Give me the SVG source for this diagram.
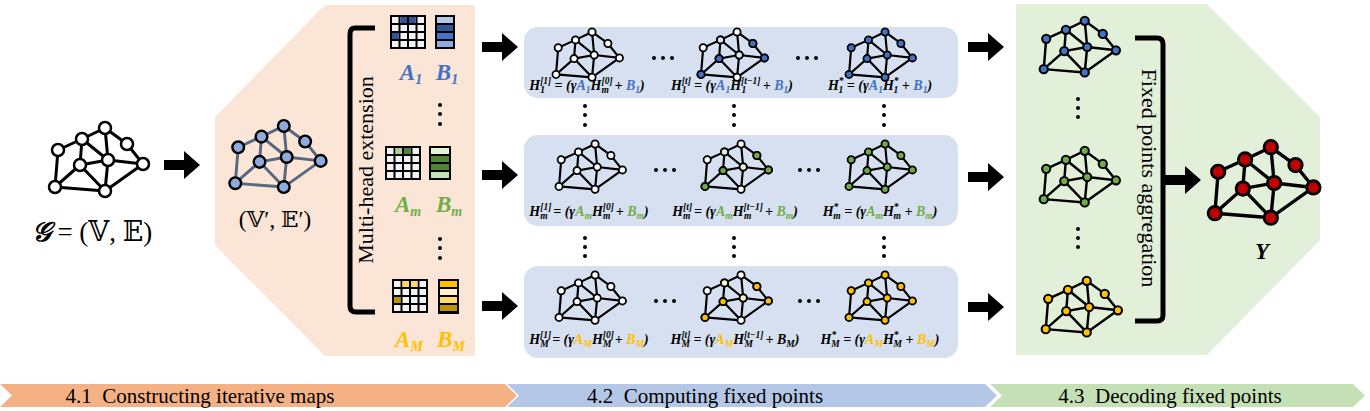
<svg xmlns="http://www.w3.org/2000/svg" xmlns:xlink="http://www.w3.org/1999/xlink" width="1370" height="411" viewBox="0 0 1370 411">
<style>
.lbl{font-family:"Liberation Serif","DejaVu Serif",serif;font-weight:bold;font-style:italic;font-size:23px}
.f{font-family:"Liberation Serif","DejaVu Serif",serif;font-weight:bold;font-style:italic;font-size:14px;fill:#000}
.s{font-size:9.5px}
.txt{font-family:"Liberation Serif","DejaVu Serif",serif;font-size:22px;fill:#000}
.ban{font-family:"Liberation Serif","DejaVu Serif",serif;font-size:21px;fill:#000;white-space:pre}
.dot{fill:#000}
.br{fill:none;stroke:#000;stroke-width:5;stroke-linejoin:round}
</style>
<defs>
<path id="ge" d="M-40,-10 L-16,-21 L7,-32 L29,-16 L45,4 L7,31 L-43,27 Z M-16,-21 L-18,5 L-43,27 M-18,5 L7,31 M-18,5 L10,0 L45,4 M7,-32 L10,0 L7,31 M-16,-21 L10,0" fill="none" stroke-width="3" stroke-linejoin="round"/>
<g id="gn" stroke="#000" stroke-width="2.5">
<circle cx="-40" cy="-10" r="6"/><circle cx="-16" cy="-21" r="6"/><circle cx="7" cy="-32" r="6"/><circle cx="29" cy="-16" r="6"/><circle cx="45" cy="4" r="6"/><circle cx="10" cy="0" r="6"/><circle cx="-18" cy="5" r="6"/><circle cx="-43" cy="27" r="6"/><circle cx="7" cy="31" r="6"/>
</g>
<g id="gns" stroke="#000" stroke-width="2.5">
<circle cx="-40" cy="-10" r="5"/><circle cx="-16" cy="-21" r="5"/><circle cx="7" cy="-32" r="5"/><circle cx="29" cy="-16" r="5"/><circle cx="45" cy="4" r="5"/><circle cx="10" cy="0" r="5"/><circle cx="-18" cy="5" r="5"/><circle cx="-43" cy="27" r="5"/><circle cx="7" cy="31" r="5"/>
</g>
<g id="gw"><use xlink:href="#ge" stroke="#000"/><use xlink:href="#gn" fill="#fff"/></g>
<g id="gws"><use xlink:href="#ge" stroke="#000"/><use xlink:href="#gns" fill="#fff"/></g>
<g id="gmix" stroke="#000" stroke-width="2.5"><circle cx="29" cy="-16" r="5"/><circle cx="45" cy="4" r="5"/><circle cx="-18" cy="5" r="5"/><circle cx="-43" cy="27" r="5"/></g>
<g id="gmixl" stroke="#000" stroke-width="2.5"><circle cx="-16" cy="-21" r="5"/><circle cx="10" cy="0" r="5"/></g>
<g id="arr"><path d="M0,-5 H20 V-14 L36,0 L20,14 V5 H0 Z" fill="#000"/></g>
<g id="grid"><rect x="0" y="0" width="36" height="34" fill="#000"/>
<g fill="#f2f2f2">
<rect x="2" y="2" width="6.5" height="6"/><rect x="10.5" y="2" width="6.5" height="6"/><rect x="19" y="2" width="6.5" height="6"/><rect x="27.5" y="2" width="6.5" height="6"/>
<rect x="2" y="10" width="6.5" height="6"/><rect x="10.5" y="10" width="6.5" height="6"/><rect x="19" y="10" width="6.5" height="6"/><rect x="27.5" y="10" width="6.5" height="6"/>
<rect x="2" y="18" width="6.5" height="6"/><rect x="10.5" y="18" width="6.5" height="6"/><rect x="19" y="18" width="6.5" height="6"/><rect x="27.5" y="18" width="6.5" height="6"/>
<rect x="2" y="26" width="6.5" height="6"/><rect x="10.5" y="26" width="6.5" height="6"/><rect x="19" y="26" width="6.5" height="6"/><rect x="27.5" y="26" width="6.5" height="6"/>
</g></g>
</defs>

<g id="bg">
<path d="M215,117 L325,5 H475 V356 H325 L215,245 Z" fill="#fbe5d6"/>
<path d="M1016,4 H1207 L1320,117 V240 L1207,355 H1016 Z" fill="#e2f0d9"/>
<rect x="524" y="27" width="434" height="71" rx="14" fill="#d6e0f0"/>
<rect x="524" y="135" width="434" height="91" rx="14" fill="#d6e0f0"/>
<rect x="524" y="266" width="434" height="92" rx="14" fill="#d6e0f0"/>
</g>

<g id="banner">
<path d="M0,384 H505 L517,395.5 L505,407 H0 L12,395.5 Z" fill="#f4b183"/>
<path d="M507,384 H985 L997,395.5 L985,407 H507 L519,395.5 Z" fill="#b4c7e7"/>
<path d="M990,384 H1353 L1365,395.5 L1353,407 H990 L1002,395.5 Z" fill="#c5e0b4"/>
<text class="ban" x="200" y="403" text-anchor="middle" xml:space="preserve">4.1  Constructing iterative maps</text>
<text class="ban" x="705" y="403" text-anchor="middle" xml:space="preserve">4.2  Computing fixed points</text>
<text class="ban" x="1170" y="403" text-anchor="middle" xml:space="preserve">4.3  Decoding fixed points</text>
</g>

<g id="input">
<use xlink:href="#gw" transform="translate(98,160)"/>
<text x="92" y="241" text-anchor="middle" font-family="Liberation Serif,DejaVu Serif,serif" font-size="27"><tspan font-weight="bold" font-style="italic">𝒢</tspan> = (𝕍, 𝔼)</text>
</g>

<g id="ext">
<g transform="translate(277,157) scale(0.97)"><use xlink:href="#ge" stroke="#56687f"/><use xlink:href="#gn" fill="#8faadc" stroke="#56687f"/></g>
<text x="275" y="227" text-anchor="middle" font-family="Liberation Serif,DejaVu Serif,serif" font-size="23">(𝕍′, 𝔼′)</text>
</g>

<g id="heads">
<path class="br" d="M375,28 H355 Q350,28 350,34 V306 Q350,312 356,312 H375"/>
<text class="txt" transform="translate(373,170) rotate(-90)" text-anchor="middle">Multi-head extension</text>
<use xlink:href="#grid" transform="translate(390,15)"/>
<g fill="#2f5597"><rect x="400.5" y="17" width="6.5" height="6"/><rect x="409" y="17" width="6.5" height="6"/><rect x="392" y="33" width="6.5" height="6"/></g>
<rect x="435" y="15" width="20" height="34" fill="#000"/>
<rect x="437" y="17" width="16" height="6" fill="#b4c7e7"/><rect x="437" y="25" width="16" height="6" fill="#2f5597"/><rect x="437" y="33" width="16" height="6" fill="#4472c4"/><rect x="437" y="41" width="16" height="6" fill="#8faadc"/>
<text class="lbl" x="411" y="80" text-anchor="middle" fill="#4472c4">A<tspan font-size="14" dy="4">1</tspan></text>
<text class="lbl" x="447" y="80" text-anchor="middle" fill="#4472c4">B<tspan font-size="14" dy="4">1</tspan></text>
<circle class="dot" cx="440" cy="105" r="2"/><circle class="dot" cx="440" cy="114" r="2"/><circle class="dot" cx="440" cy="124" r="2"/>
<use xlink:href="#grid" transform="translate(385,146)"/>
<g><rect x="395.5" y="148" width="6.5" height="6" fill="#a9d18e"/><rect x="404" y="148" width="6.5" height="6" fill="#548235"/></g>
<rect x="429" y="146" width="22" height="34" fill="#000"/>
<rect x="431" y="148" width="18" height="6" fill="#e2f0d9"/><rect x="431" y="156" width="18" height="6" fill="#548235"/><rect x="431" y="164" width="18" height="6" fill="#548235"/><rect x="431" y="172" width="18" height="6" fill="#c5e0b4"/>
<text class="lbl" x="408" y="212" text-anchor="middle" fill="#70ad47">A<tspan font-size="14" dy="4">m</tspan></text>
<text class="lbl" x="449" y="212" text-anchor="middle" fill="#70ad47">B<tspan font-size="14" dy="4">m</tspan></text>
<circle class="dot" cx="440" cy="239" r="2"/><circle class="dot" cx="440" cy="248" r="2"/><circle class="dot" cx="440" cy="258" r="2"/>
<use xlink:href="#grid" transform="translate(392,279)"/>
<g><rect x="402.5" y="281" width="6.5" height="6" fill="#ffd966"/><rect x="411" y="281" width="6.5" height="6" fill="#ffd966"/><rect x="394" y="297" width="6.5" height="6" fill="#bf9000"/></g>
<rect x="438" y="279" width="21" height="35" fill="#000"/>
<rect x="440" y="281" width="17" height="6" fill="#ffc000"/><rect x="440" y="289" width="17" height="6" fill="#fff2cc"/><rect x="440" y="297" width="17" height="6" fill="#ffd966"/><rect x="440" y="305" width="17" height="6" fill="#bf9000"/>
<text class="lbl" x="409" y="347" text-anchor="middle" fill="#ffc000">A<tspan font-size="14" dy="4">M</tspan></text>
<text class="lbl" x="451" y="347" text-anchor="middle" fill="#ffc000">B<tspan font-size="14" dy="4">M</tspan></text>
</g>

<g id="row1">
<use xlink:href="#gws" transform="translate(587,55) scale(0.72)"/>
<g transform="translate(732,55) scale(0.72)"><use xlink:href="#ge" stroke="#000"/><use xlink:href="#gns" fill="#fff"/><use xlink:href="#gmix" fill="#4472c4"/><use xlink:href="#gmixl" fill="#dae3f3"/></g>
<g transform="translate(880,55) scale(0.72)"><use xlink:href="#ge" stroke="#000"/><use xlink:href="#gns" fill="#4472c4"/></g>
<g class="dot"><circle cx="654" cy="58" r="2"/><circle cx="663" cy="58" r="2"/><circle cx="672" cy="58" r="2"/><circle cx="798" cy="58" r="2"/><circle cx="807" cy="58" r="2"/><circle cx="816" cy="58" r="2"/></g>
<text class="f" x="587" y="90" text-anchor="middle">H<tspan class="s" dy="-6">[1]</tspan><tspan class="s" dx="-11" dy="9">1</tspan><tspan dx="6" dy="-3"> = (γ</tspan><tspan fill="#4472c4">A<tspan class="s" dy="3">1</tspan></tspan><tspan dy="-3">H</tspan><tspan class="s" dy="-6">[0]</tspan><tspan class="s" dx="-11" dy="9">m</tspan><tspan dx="2" dy="-3"> + </tspan><tspan fill="#4472c4">B<tspan class="s" dy="3">1</tspan></tspan><tspan dy="-3">)</tspan></text>
<text class="f" x="732" y="90" text-anchor="middle">H<tspan class="s" dy="-6">[t]</tspan><tspan class="s" dx="-9" dy="9">1</tspan><tspan dx="4" dy="-3"> = (γ</tspan><tspan fill="#4472c4">A<tspan class="s" dy="3">1</tspan></tspan><tspan dy="-3">H</tspan><tspan class="s" dy="-6">[t−1]</tspan><tspan class="s" dx="-19" dy="9">1</tspan><tspan dx="13" dy="-3"> + </tspan><tspan fill="#4472c4">B<tspan class="s" dy="3">1</tspan></tspan><tspan dy="-3">)</tspan></text>
<text class="f" x="880" y="90" text-anchor="middle">H<tspan class="s" dy="-6">*</tspan><tspan class="s" dx="-5" dy="9">1</tspan><tspan dy="-3"> = (γ</tspan><tspan fill="#4472c4">A<tspan class="s" dy="3">1</tspan></tspan><tspan dy="-3">H</tspan><tspan class="s" dy="-6">*</tspan><tspan class="s" dx="-5" dy="9">1</tspan><tspan dy="-3"> + </tspan><tspan fill="#4472c4">B<tspan class="s" dy="3">1</tspan></tspan><tspan dy="-3">)</tspan></text>
</g>
<g id="vdots" class="dot">
<circle cx="585" cy="106" r="2"/><circle cx="585" cy="115" r="2"/><circle cx="585" cy="125" r="2"/>
<circle cx="734" cy="106" r="2"/><circle cx="734" cy="115" r="2"/><circle cx="734" cy="125" r="2"/>
<circle cx="884" cy="106" r="2"/><circle cx="884" cy="115" r="2"/><circle cx="884" cy="125" r="2"/>
<circle cx="585" cy="238" r="2"/><circle cx="585" cy="247" r="2"/><circle cx="585" cy="256" r="2"/>
<circle cx="734" cy="238" r="2"/><circle cx="734" cy="247" r="2"/><circle cx="734" cy="256" r="2"/>
<circle cx="884" cy="238" r="2"/><circle cx="884" cy="247" r="2"/><circle cx="884" cy="256" r="2"/>
</g>
<g id="row2">
<use xlink:href="#gws" transform="translate(590,167) scale(0.72)"/>
<g transform="translate(736,167) scale(0.72)"><use xlink:href="#ge" stroke="#000"/><use xlink:href="#gns" fill="#fff"/><use xlink:href="#gmix" fill="#70ad47"/><use xlink:href="#gmixl" fill="#e2f0d9"/></g>
<g transform="translate(880,167) scale(0.72)"><use xlink:href="#ge" stroke="#000"/><use xlink:href="#gns" fill="#70ad47"/></g>
<g class="dot"><circle cx="656" cy="170" r="2"/><circle cx="665" cy="170" r="2"/><circle cx="674" cy="170" r="2"/><circle cx="800" cy="170" r="2"/><circle cx="809" cy="170" r="2"/><circle cx="818" cy="170" r="2"/></g>
<text class="f" x="589" y="216" text-anchor="middle">H<tspan class="s" dy="-6">[1]</tspan><tspan class="s" dx="-11" dy="9">m</tspan><tspan dx="2" dy="-3"> = (γ</tspan><tspan fill="#70ad47">A<tspan class="s" dy="3">m</tspan></tspan><tspan dy="-3">H</tspan><tspan class="s" dy="-6">[0]</tspan><tspan class="s" dx="-11" dy="9">m</tspan><tspan dx="2" dy="-3"> + </tspan><tspan fill="#70ad47">B<tspan class="s" dy="3">m</tspan></tspan><tspan dy="-3">)</tspan></text>
<text class="f" x="735" y="216" text-anchor="middle">H<tspan class="s" dy="-6">[t]</tspan><tspan class="s" dx="-9" dy="9">m</tspan><tspan dy="-3"> = (γ</tspan><tspan fill="#70ad47">A<tspan class="s" dy="3">m</tspan></tspan><tspan dy="-3">H</tspan><tspan class="s" dy="-6">[t−1]</tspan><tspan class="s" dx="-19" dy="9">m</tspan><tspan dx="10" dy="-3"> + </tspan><tspan fill="#70ad47">B<tspan class="s" dy="3">m</tspan></tspan><tspan dy="-3">)</tspan></text>
<text class="f" x="880" y="216" text-anchor="middle">H<tspan class="s" dy="-6">*</tspan><tspan class="s" dx="-5" dy="9">m</tspan><tspan dy="-3"> = (γ</tspan><tspan fill="#70ad47">A<tspan class="s" dy="3">m</tspan></tspan><tspan dy="-3">H</tspan><tspan class="s" dy="-6">*</tspan><tspan class="s" dx="-5" dy="9">m</tspan><tspan dy="-3"> + </tspan><tspan fill="#70ad47">B<tspan class="s" dy="3">m</tspan></tspan><tspan dy="-3">)</tspan></text>
</g>
<g id="row3">
<use xlink:href="#gws" transform="translate(590,298) scale(0.72)"/>
<g transform="translate(736,298) scale(0.72)"><use xlink:href="#ge" stroke="#000"/><use xlink:href="#gns" fill="#fff"/><use xlink:href="#gmix" fill="#ffc000"/><use xlink:href="#gmixl" fill="#fff2cc"/></g>
<g transform="translate(880,298) scale(0.72)"><use xlink:href="#ge" stroke="#000"/><use xlink:href="#gns" fill="#ffc000"/></g>
<g class="dot"><circle cx="656" cy="301" r="2"/><circle cx="665" cy="301" r="2"/><circle cx="674" cy="301" r="2"/><circle cx="800" cy="301" r="2"/><circle cx="809" cy="301" r="2"/><circle cx="818" cy="301" r="2"/></g>
<text class="f" x="589" y="344" text-anchor="middle">H<tspan class="s" dy="-6">[1]</tspan><tspan class="s" dx="-11" dy="9">M</tspan><tspan dy="-3"> = (γ</tspan><tspan fill="#ffc000">A<tspan class="s" dy="3">M</tspan></tspan><tspan dy="-3">H</tspan><tspan class="s" dy="-6">[0]</tspan><tspan class="s" dx="-11" dy="9">M</tspan><tspan dy="-3"> + </tspan><tspan fill="#ffc000">B<tspan class="s" dy="3">M</tspan></tspan><tspan dy="-3">)</tspan></text>
<text class="f" x="735" y="344" text-anchor="middle">H<tspan class="s" dy="-6">[t]</tspan><tspan class="s" dx="-9" dy="9">M</tspan><tspan dy="-3"> = (γ</tspan><tspan fill="#ffc000">A<tspan class="s" dy="3">M</tspan></tspan><tspan dy="-3">H</tspan><tspan class="s" dy="-6">[t−1]</tspan><tspan class="s" dx="-19" dy="9">M</tspan><tspan dx="9" dy="-3"> + B</tspan><tspan class="s" dy="3">M</tspan><tspan dy="-3">)</tspan></text>
<text class="f" x="880" y="344" text-anchor="middle">H<tspan class="s" dy="-6">*</tspan><tspan class="s" dx="-5" dy="9">M</tspan><tspan dy="-3"> = (γ</tspan><tspan fill="#ffc000">A<tspan class="s" dy="3">M</tspan></tspan><tspan dy="-3">H</tspan><tspan class="s" dy="-6">*</tspan><tspan class="s" dx="-5" dy="9">M</tspan><tspan dy="-3"> + </tspan><tspan fill="#ffc000">B<tspan class="s" dy="3">M</tspan></tspan><tspan dy="-3">)</tspan></text>
</g>

<g id="fixed">
<g transform="translate(1079,47) scale(0.82)"><use xlink:href="#ge" stroke="#000"/><use xlink:href="#gns" fill="#4472c4"/></g>
<g transform="translate(1079,177) scale(0.82)"><use xlink:href="#ge" stroke="#000"/><use xlink:href="#gns" fill="#70ad47"/></g>
<g transform="translate(1081,307) scale(0.82)"><use xlink:href="#ge" stroke="#000"/><use xlink:href="#gns" fill="#ffc000"/></g>
<g class="dot"><circle cx="1078" cy="99" r="2"/><circle cx="1078" cy="108" r="2"/><circle cx="1078" cy="117" r="2"/><circle cx="1078" cy="229" r="2"/><circle cx="1078" cy="238" r="2"/><circle cx="1078" cy="247" r="2"/></g>
<path class="br" d="M1135,38 H1157 Q1163,38 1163,44 V315 Q1163,321 1157,321 H1135"/>
<text class="txt" transform="translate(1142,178) rotate(90)" text-anchor="middle">Fixed points aggregation</text>
</g>

<g id="output">
<g transform="translate(1263,183) scale(1.12)"><use xlink:href="#ge" stroke="#000"/><use xlink:href="#gn" fill="#c00000"/></g>
<text class="lbl" x="1262" y="259" text-anchor="middle" font-size="28">Y</text>
</g>

<g id="connectors">
<use xlink:href="#arr" transform="translate(164,165)"/>
<use xlink:href="#arr" transform="translate(482,47)"/>
<use xlink:href="#arr" transform="translate(482,175)"/>
<use xlink:href="#arr" transform="translate(482,306)"/>
<use xlink:href="#arr" transform="translate(968,47)"/>
<use xlink:href="#arr" transform="translate(968,177)"/>
<use xlink:href="#arr" transform="translate(968,307)"/>
<use xlink:href="#arr" transform="translate(1165,180)"/>
</g>
</svg>
